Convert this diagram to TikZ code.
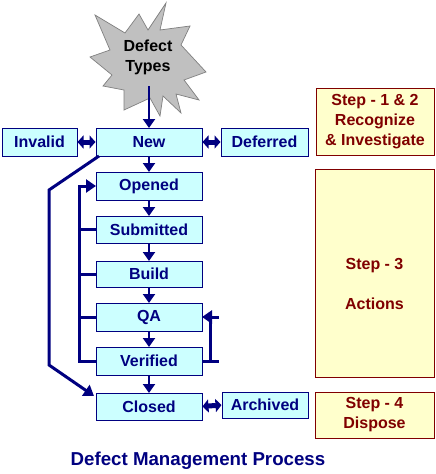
\documentclass[tikz,border=0pt]{standalone}
\usepackage{fontspec}
\setmainfont{Liberation Sans}
\usetikzlibrary{arrows.meta,calc}
\definecolor{navy}{HTML}{000080}
\definecolor{boxfill}{HTML}{CCFFFF}
\definecolor{stepfill}{HTML}{FFFFCC}
\definecolor{maroon}{HTML}{800000}
\definecolor{starfill}{HTML}{C0C0C0}
\begin{document}
\begin{tikzpicture}[x=1pt,y=-1pt,
  state/.style={draw=navy,fill=boxfill,line width=0.9pt,inner sep=0pt,outer sep=0pt,
    minimum width=106pt,minimum height=28pt,text=navy,font=\fontsize{16}{19}\selectfont\bfseries},
  stepbox/.style={draw=maroon,fill=stepfill,line width=0.9pt,inner sep=0pt,outer sep=0pt,
    minimum width=119pt,text=maroon,align=center,font=\fontsize{16}{20}\selectfont\bfseries},
  down/.style={navy,line width=2pt,-{Triangle[length=9pt,width=12pt]}},
  loopline/.style={navy,line width=3pt},
  looparrow/.style={navy,line width=3pt,-{Triangle[length=10pt,width=13pt]}},
  dbl/.style={navy,line width=5pt,{Triangle[length=6pt,width=13pt]}-{Triangle[length=6pt,width=13pt]},shorten <=0.5pt,shorten >=0.5pt}
]
\useasboundingbox[fill=white] (0,0) rectangle (436,474);

% star
\draw[fill=starfill,draw=gray,line width=0.7pt]
  (166,3) -- (160,30) -- (190,26) -- (181,45) -- (206,72) -- (184,80) -- (199,100) -- (176,94)
  -- (181,113) -- (163,96) -- (160,116) -- (150,98) -- (124,110) -- (124,90) -- (103,86)
  -- (112,75) -- (90,57) -- (110,50) -- (95,15) -- (125,33) -- (139,14) -- (148,30) -- cycle;
\node[font=\fontsize{16}{20}\selectfont\bfseries,align=center,inner sep=0pt] (star) at (148,57) {Defect\\Types};
\coordinate (starbot) at (149,86);

% states
\node[state] (New) at (149,142) {New};
\node[state,minimum width=75pt] (Invalid) at (39.5,142) {Invalid};
\node[state,minimum width=87pt] (Deferred) at (264.5,142) {Deferred};
\node[state] (Opened) at (149,186) {Opened};
\node[state,minimum height=27pt] (Submitted) at (149,229.5) {Submitted};
\node[state,minimum height=26pt] (Build) at (149,274) {Build};
\node[state] (QA) at (149,317) {QA};
\node[state] (Verified) at (149,361) {Verified};
\node[state,minimum height=27pt] (Closed) at (149,406.5) {Closed};
\node[state,minimum width=86pt,minimum height=26pt] (Archived) at (265,405) {Archived};

% step boxes
\node[stepbox,minimum width=118pt,minimum height=67pt] (S12) at (375,121.5) {Step - 1 \& 2\\Recognize\\\& Investigate};
\node[stepbox,minimum height=208pt] (S3) at (374.5,273) {\mbox{}\\[14pt]Step - 3\\[20pt]Actions};
\node[stepbox,minimum height=46pt] (S4) at (374.5,415) {Step - 4\\Dispose};

% title
\node[text=navy,font=\fontsize{18.7}{22}\selectfont\bfseries,inner sep=0pt] (title) at (198,461) {Defect Management Process};

% arrows
\draw[down] (starbot) -- (New.north);
\draw[down] (New.south) -- (Opened.north);
\draw[down] (Opened.south) -- (Submitted.north);
\draw[down] (Submitted.south) -- (Build.north);
\draw[down] (Build.south) -- (QA.north);
\draw[down] (QA.south) -- (Verified.north);
\draw[down] (Verified.south) -- (Closed.north);

\draw[dbl] (Invalid.east) -- (New.west);
\draw[dbl] (New.east) -- (Deferred.west);
\draw[dbl] (Closed.east) -- (Archived.west);

% left feedback loop
\coordinate (lx) at (79,0);
\draw[looparrow] (Verified.west) -- (Verified.west -| lx) |- (Opened.west);
\draw[loopline] (Submitted.west) -- (Submitted.west -| lx);
\draw[loopline] (Build.west) -- (Build.west -| lx);
\draw[loopline] (QA.west) -- (QA.west -| lx);

% long bypass New -> Closed
\coordinate (b1) at (49,190);
\coordinate (b2) at (49,365);
\draw[looparrow] ([xshift=3pt]New.south west) -- (b1) -- (b2) -- ([xshift=-2pt,yshift=-3pt]Closed.north west);

% right QA loop
\coordinate (rx) at (210,0);
\coordinate (rend) at (219,0);
\draw[loopline] (Verified.east) -- (Verified.east -| rend);
\draw[loopline] (Verified.east -| rx) -- (QA.east -| rx);
\draw[looparrow] (QA.east -| rend) -- (QA.east);
\end{tikzpicture}
\end{document}
